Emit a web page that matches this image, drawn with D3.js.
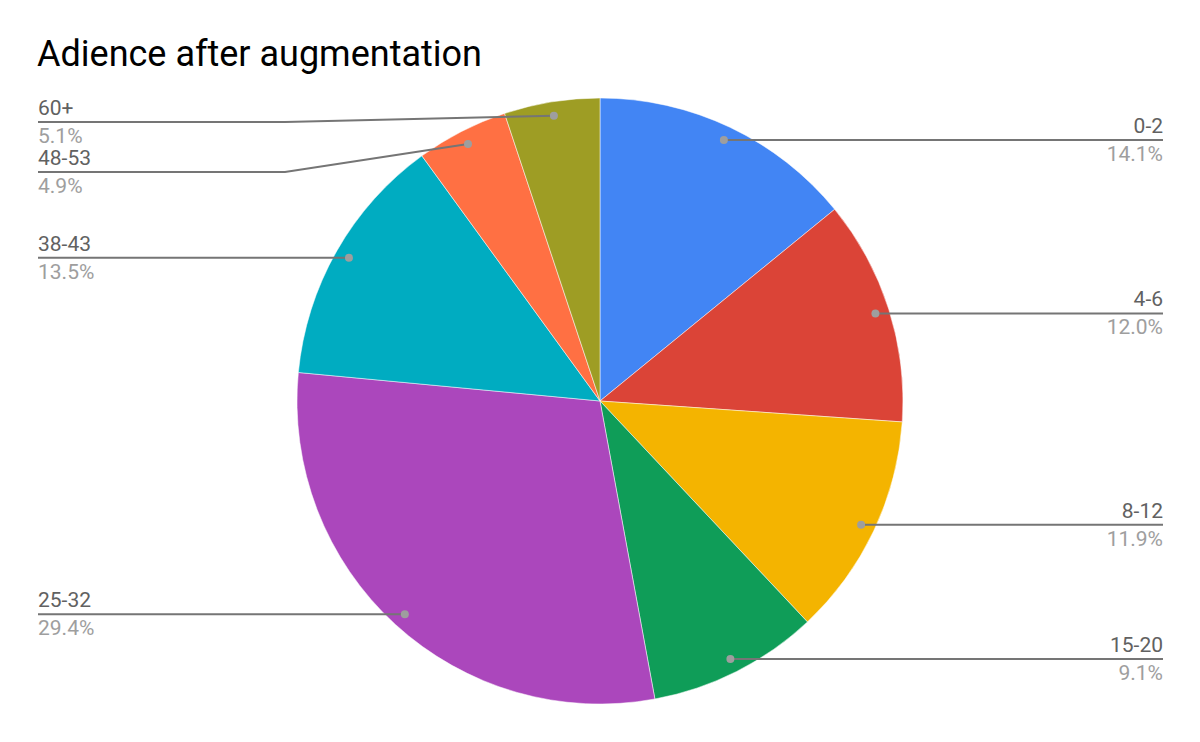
<!DOCTYPE html>
<html>
<head>
<meta charset="utf-8">
<script src="https://cdn.jsdelivr.net/npm/d3@7"></script>
<style>
  body { margin: 0; background: #fff; }
  text { font-family: Roboto, "Noto Sans", sans-serif; }
</style>
</head>
<body>
<script>
// age groups and share of images (%)
var categories = ["0-2", "4-6", "8-12", "15-20", "25-32", "38-43", "48-53", "60+"];
var shares = [14.1, 12.0, 11.9, 9.1, 29.4, 13.5, 4.9, 5.1];
var colors = ["#4285f4", "#db4437", "#f4b400", "#0f9d58", "#ab47bc", "#00acc1", "#ff7043", "#9e9d24"];

var width = 1200,
    height = 742,
    cx = 600,
    cy = 401,
    radius = 303;

var svg = d3.select("body").append("svg")
    .attr("width", width)
    .attr("height", height);

svg.append("text")
    .attr("x", 37)
    .attr("y", 66)
    .attr("font-size", 36)
    .attr("fill", "#000")
    .text("Adience after augmentation");

var rows = categories.map(function(c, i) { return {name: c, value: shares[i], color: colors[i]}; });

var pie = d3.pie().sort(null).value(function(d) { return d.value; });
var arcs = pie(rows);

var arc = d3.arc().innerRadius(0).outerRadius(radius);
var dotArc = d3.arc().innerRadius(radius - 14).outerRadius(radius - 14);

var g = svg.append("g").attr("transform", "translate(" + cx + "," + cy + ")");

g.selectAll("path")
  .data(arcs)
  .enter().append("path")
    .attr("d", arc)
    .attr("fill", function(d) { return d.data.color; })
    .attr("stroke", "#fff")
    .attr("stroke-width", 0.5);

// label positions: dot on the slice, label pushed apart on each side
arcs.forEach(function(d) {
  var p = dotArc.centroid(d);
  d.dx = p[0] + cx;
  d.dy = p[1] + cy;
  d.side = p[0] >= 0 ? "right" : "left";
  d.ly = d.dy;
});

["left", "right"].forEach(function(side) {
  var list = arcs.filter(function(d) { return d.side == side; })
    .sort(function(a, b) { return a.dy - b.dy; });
  var prev = 122 - 50;
  list.forEach(function(d) {
    d.ly = Math.max(d.ly, prev + 50);
    prev = d.ly;
  });
});

var labels = svg.append("g");

arcs.forEach(function(d) {
  var left = d.side == "left";
  var endX = left ? 38 : 1163;
  var elbowX = left ? 285 : 915;
  labels.append("polyline")
    .attr("points", [[d.dx, d.dy], [elbowX, d.ly], [endX, d.ly]].map(function(p) { return p.join(","); }).join(" "))
    .attr("fill", "none")
    .attr("stroke", "#757575")
    .attr("stroke-width", 2);
  labels.append("circle")
    .attr("cx", d.dx)
    .attr("cy", d.dy)
    .attr("r", 4)
    .attr("fill", "#9e9e9e");
  labels.append("text")
    .attr("x", endX)
    .attr("y", d.ly - 7)
    .attr("text-anchor", left ? "start" : "end")
    .attr("font-size", 21)
    .attr("fill", "#616161")
    .text(d.data.name);
  labels.append("text")
    .attr("x", endX)
    .attr("y", d.ly + 21)
    .attr("text-anchor", left ? "start" : "end")
    .attr("font-size", 21)
    .attr("fill", "#9e9e9e")
    .text(d.data.value.toFixed(1) + "%");
});
</script>
</body>
</html>
